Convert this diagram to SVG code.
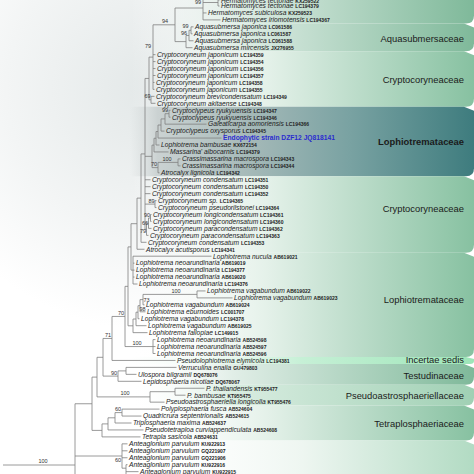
<svg xmlns="http://www.w3.org/2000/svg" width="474" height="474" viewBox="0 0 474 474">
<defs>
<radialGradient id="bg" gradientUnits="userSpaceOnUse" cx="150" cy="90" r="240">
<stop offset="0" stop-color="#e3e8e8"/><stop offset="0.6" stop-color="#f3f5f5"/><stop offset="1" stop-color="#ffffff"/>
</radialGradient>
<linearGradient id="gG" gradientUnits="userSpaceOnUse" x1="130" y1="0" x2="474" y2="0">
<stop offset="0" stop-color="#ffffff" stop-opacity="0"/><stop offset="0.3" stop-color="#e1eee7"/><stop offset="1" stop-color="#7fb99a"/>
</linearGradient>
<linearGradient id="gL" gradientUnits="userSpaceOnUse" x1="130" y1="0" x2="474" y2="0">
<stop offset="0" stop-color="#ffffff" stop-opacity="0"/><stop offset="0.4" stop-color="#e4f1e9"/><stop offset="1" stop-color="#87c1a1"/>
</linearGradient>
<linearGradient id="gD" gradientUnits="userSpaceOnUse" x1="130" y1="0" x2="474" y2="0">
<stop offset="0" stop-color="#d5dada" stop-opacity="0"/><stop offset="0.08" stop-color="#cbd2d2"/><stop offset="0.35" stop-color="#a5b9b8"/><stop offset="0.64" stop-color="#79a2a2"/><stop offset="1" stop-color="#3e7c7e"/>
</linearGradient>
<linearGradient id="gI" gradientUnits="userSpaceOnUse" x1="130" y1="0" x2="474" y2="0">
<stop offset="0" stop-color="#e8f8ee" stop-opacity="0"/><stop offset="0.5" stop-color="#c6f0d6"/><stop offset="1" stop-color="#9de5b8"/>
</linearGradient>
<linearGradient id="gP" gradientUnits="userSpaceOnUse" x1="130" y1="0" x2="474" y2="0">
<stop offset="0" stop-color="#ffffff" stop-opacity="0"/><stop offset="0.3" stop-color="#d9ede1"/><stop offset="1" stop-color="#a0d0b4"/>
</linearGradient>
<linearGradient id="gA" gradientUnits="userSpaceOnUse" x1="130" y1="0" x2="474" y2="0">
<stop offset="0" stop-color="#ffffff" stop-opacity="0"/><stop offset="0.5" stop-color="#eef6f1"/><stop offset="1" stop-color="#b2dbc3"/>
</linearGradient>
<style>
.sp{font-family:"Liberation Sans",Arial,sans-serif;font-style:italic;font-size:6.7px;fill:#222}
.a{font-style:normal;font-weight:bold;font-size:5px}
.bs{font-family:"Liberation Sans",Arial,sans-serif;font-size:5.5px;fill:#333}
.fam{font-family:"Liberation Sans",Arial,sans-serif;font-size:9.4px;fill:#1b1b1b;text-anchor:end}
.tree{fill:none;stroke:#808080;stroke-width:0.8}
.e{text-anchor:end}.m{text-anchor:middle}
</style>
</defs>
<rect x="0" y="0" width="474" height="474" fill="url(#bg)"/>
<g id="bands">
<path fill="url(#gG)" d="M130 -10H464L474 -6V15.4Q474 23.4 466 23.4H130Z"/>
<path fill="url(#gG)" d="M130 23.4H464L474 27.4V43.2Q474 51.2 466 51.2H130Z"/>
<path fill="url(#gL)" d="M130 51.2H464L474 55.2V98.8Q474 106.8 466 106.8H130Z"/>
<path fill="url(#gD)" d="M130 106.8H464L474 110.8V168.3Q474 176.3 466 176.3H130Z"/>
<path fill="url(#gL)" d="M130 176.3H464L474 180.3V244.7Q474 252.7 466 252.7H130Z"/>
<path fill="url(#gL)" d="M130 252.7H464L474 256.7V349Q474 357 466 357H130Z"/>
<path fill="url(#gI)" d="M130 357H466L474 359V361Q474 363.9 470 363.9H130Z"/>
<path fill="url(#gG)" d="M130 363.9H464L474 367.9V376.8Q474 384.8 466 384.8H130Z"/>
<path fill="url(#gP)" d="M130 384.8H464L474 388.8V397.6Q474 405.6 466 405.6H130Z"/>
<path fill="url(#gL)" d="M130 405.6H464L474 409.6V432.4Q474 440.4 466 440.4H130Z"/>
<path fill="url(#gA)" d="M130 440.4H464L474 444.4V480H130Z"/>
</g>
<g id="families">
<text class="fam" x="464" y="41.5">Aquasubmersaceae</text>
<text class="fam" x="464" y="82.5">Cryptocoryneaceae</text>
<text class="fam" x="464" y="145" font-weight="bold" font-size="9.2">Lophiotremataceae</text>
<text class="fam" x="464" y="211.5">Cryptocoryneaceae</text>
<text class="fam" x="464" y="302.5">Lophiotremataceae</text>
<text class="fam" x="464" y="362.8" font-size="7.8">Incertae sedis</text>
<text class="fam" x="464" y="378.5">Testudinaceae</text>
<text class="fam" x="464" y="398.5">Pseudoastrosphaeriellaceae</text>
<text class="fam" x="464" y="426.5">Tetraplosphaeriaceae</text>
</g>
<g id="connectors">
<path class="tree" d="M218 0V6M218 0H219.5M218 6H219.5M203 -6V19.9M203 2.5H218M203 12.95H206.5M203 19.9H220.5
M191 26.85V33.8M191 26.85H193.5M191 33.8H192.5M189 30.3V40.75M189 30.3H191M189 40.75H193.5M186 35.5V47.7M186 35.5H189M186 47.7H192.5
M175 8V41.6M175 8H203M175 41.6H186
M153 24.8V89.4M153 24.8H175M153 54.65H155.5M153 61.6H155.5M153 68.55H155.5M153 75.5H155.5M153 82.45H154.5M153 89.4H154.5
M151 96.35V103.3M151 96.35H154.5M151 103.3H155.5M149 57.1V99.8M149 57.1H153M149 99.8H151
M169 110.25V117.2M169 110.25H170.5M169 117.2H170.5M165 113.7V124.15M165 113.7H169M165 124.15H206.5
M161 118.9V131.1M161 118.9H165M161 131.1H164.5M158 125V138.05M158 125H161M158 138.05H221.5
M156 131.5V145M156 131.5H158M156 145H159.5M154 138.25V151.95M154 138.25H156M154 151.95H168.5
M178 158.9V165.85M178 158.9H180.5M178 165.85H180.5M158 162.4V172.8M158 162.4H178M158 172.8H159.5
M152 145.1V167.6M152 145.1H154M152 167.6H158
M155 200.6V207.55M155 200.6H156.5M155 207.55H156.5M150.5 214.5V221.45M150.5 214.5H151.5M150.5 221.45H151.5
M148.5 218V228.4M148.5 218H150.5M148.5 228.4H151.5M146.5 223.2V235.35M146.5 223.2H148.5M146.5 235.35H148.5
M145 78.45V229.3M145 78.45H149M145 156.35H152M145 179.75H150.5M145 186.7H150.5M145 193.65H150.5M145 204.1H155M145 229.3H146.5
M141 153.9V242.3M141 153.9H145M141 242.3H146.5M137 198.1V249.25M137 198.1H141M137 249.25H144.5
M133 256.2V284M133 256.2H211.5M133 263.15H134.5M133 270.1H134.5M133 277.05H134.5M133 284H137.5
M197 290.95V297.9M197 290.95H205.5M197 297.9H232.5M143 294.4V304.85M143 294.4H197M143 304.85H144.5
M140 299.6V311.8M140 299.6H143M140 311.8H145.5M138 305.7V318.75M138 305.7H140M138 318.75H139.5
M136 312.2V325.7M136 312.2H138M136 325.7H146.5M133 319V332.65M133 319H136M133 332.65H147.5
M131 223.7V270.1M131 223.7H137M131 270.1H133M128 246.9V325.8M128 246.9H131M128 325.8H133
M153 339.6V353.5M153 339.6H155.5M153 346.55H155.5M153 353.5H155.5M125 286.35V346.55M125 286.35H128M125 346.55H153
M112 316.45V360.45M112 316.45H125M112 360.45H175.5
M126 367.4V374.35M126 367.4H176.5M126 374.35H136.5M118 370.9V381.3M118 370.9H126M118 381.3H141.5
M103 338.45V376.1M103 338.45H112M103 376.1H118
M175 388.25V395.2M175 388.25H204.5M175 395.2H185.5M150 391.7V402.15M150 391.7H175M150 402.15H164.5
M122 409.1V416.05M122 409.1H159.5M122 416.05H141.5M115 412.6V423M115 412.6H122M115 423H131.5
M108 417.8V429.95M108 417.8H115M108 429.95H143.5M102 423.9V436.9M102 423.9H108M102 436.9H140.5
M97 357.3V396.9M97 357.3H103M97 396.9H150M92 377.1V430.4M92 377.1H97M92 430.4H102
M75 403.75V474M75 403.75H92M75 456H122M3 465H75
M122 443.85V468.2M122 443.85H127.5M122 450.8H127.5M122 457.75H127.5M122 468.2H126M126 464.7V474M126 464.7H127.5M126 471.65H138.5"/>
</g>
<g id="support">
<text class="bs e" x="201" y="3.5">99</text>
<text class="bs m" x="165" y="22.5">94</text>
<text class="bs e" x="188.5" y="28">99</text>
<text class="bs e" x="187" y="34.5">96</text>
<text class="bs e" x="151" y="47.5">79</text>
<text class="bs e" x="150.5" y="97.5">69</text>
<text class="bs e" x="168" y="111.5">99</text>
<text class="bs m" x="167" y="160.5">100</text>
<text class="bs e" x="157" y="166">70</text>
<text class="bs e" x="154.5" y="202.5">89</text>
<text class="bs e" x="150" y="216.5">90</text>
<text class="bs e" x="148" y="225">66</text>
<text class="bs e" x="146" y="233">79</text>
<text class="bs m" x="176" y="292.5">100</text>
<text class="bs e" x="149.5" y="301.5">73</text>
<text class="bs e" x="145.5" y="310.5">98</text>
<text class="bs e" x="124" y="315">70</text>
<text class="bs m" x="137" y="344.5">100</text>
<text class="bs e" x="111" y="336.5">71</text>
<text class="bs e" x="117" y="374.5">90</text>
<text class="bs m" x="125" y="394.5">100</text>
<text class="bs e" x="121" y="410.5">60</text>
<text class="bs m" x="43" y="463">100</text>
<text class="bs e" x="121" y="461.5">60</text>
</g>
<g id="taxa">
<g id="t0"><text class="sp" x="221" y="2.6">Hermatomyces tectonae <tspan class="a">KX259522</tspan></text></g>
<g id="t1"><text class="sp" x="221" y="8.3">Hermatomyces tectonae <tspan class="a">LC194379</tspan></text></g>
<g id="t2"><text class="sp" x="208" y="15.25">Hermatomyces subiculosa <tspan class="a">KX259523</tspan></text></g>
<g id="t3"><text class="sp" x="222" y="22.2">Hermatomyces iriomotensis <tspan class="a">LC194367</tspan></text></g>
<g id="t4"><text class="sp" x="195" y="29.15">Aquasubmersa japonica <tspan class="a">LC061586</tspan></text></g>
<g id="t5"><text class="sp" x="194" y="36.1">Aquasubmersa japonica <tspan class="a">LC061587</tspan></text></g>
<g id="t6"><text class="sp" x="195" y="43.05">Aquasubmersa japonica <tspan class="a">LC061588</tspan></text></g>
<g id="t7"><text class="sp" x="194" y="50">Aquasubmersa mircensis <tspan class="a">JX276955</tspan></text></g>
<g id="t8"><text class="sp" x="157" y="56.95">Cryptocoryneum japonicum <tspan class="a">LC194359</tspan></text></g>
<g id="t9"><text class="sp" x="157" y="63.9">Cryptocoryneum japonicum <tspan class="a">LC194354</tspan></text></g>
<g id="t10"><text class="sp" x="157" y="70.85">Cryptocoryneum japonicum <tspan class="a">LC194356</tspan></text></g>
<g id="t11"><text class="sp" x="157" y="77.8">Cryptocoryneum japonicum <tspan class="a">LC194357</tspan></text></g>
<g id="t12"><text class="sp" x="156" y="84.75">Cryptocoryneum japonicum <tspan class="a">LC194358</tspan></text></g>
<g id="t13"><text class="sp" x="156" y="91.7">Cryptocoryneum japonicum <tspan class="a">LC194355</tspan></text></g>
<g id="t14"><text class="sp" x="156" y="98.65">Cryptocoryneum brevicondensatum <tspan class="a">LC194349</tspan></text></g>
<g id="t15"><text class="sp" x="157" y="105.6">Cryptocoryneum  akitaense <tspan class="a">LC194348</tspan></text></g>
<g id="t16"><text class="sp" x="172" y="112.55">Cryptoclypeus ryukyuensis <tspan class="a">LC194347</tspan></text></g>
<g id="t17"><text class="sp" x="172" y="119.5">Cryptoclypeus ryukyuensis <tspan class="a">LC194346</tspan></text></g>
<g id="t18"><text class="sp" x="208" y="126.45">Galeaticarpa aomoriensis <tspan class="a">LC194366</tspan></text></g>
<g id="t19"><text class="sp" x="166" y="133.4">Cryptoclypeus oxysporus <tspan class="a">LC194345</tspan></text></g>
<g id="t20"><text x="223" y="140.35" font-family="Liberation Sans, Arial, sans-serif" font-size="6.7" font-weight="bold" fill="#2b2bd0">Endophytic strain DZF12 JQ818141</text></g>
<g id="t21"><text class="sp" x="161" y="147.3">Lophiotrema bambusae <tspan class="a">KX672154</tspan></text></g>
<g id="t22"><text class="sp" x="170" y="154.25">Massarina' albocarnis <tspan class="a">LC194379</tspan></text></g>
<g id="t23"><text class="sp" x="182" y="161.2">Crassimassarina macrospora <tspan class="a">LC194343</tspan></text></g>
<g id="t24"><text class="sp" x="182" y="168.15">Crassimassarina macrospora <tspan class="a">LC194344</tspan></text></g>
<g id="t25"><text class="sp" x="161" y="175.1">Atrocalyx lignicola <tspan class="a">LC194342</tspan></text></g>
<g id="t26"><text class="sp" x="152" y="182.05">Cryptocoryneum condensatum <tspan class="a">LC194351</tspan></text></g>
<g id="t27"><text class="sp" x="152" y="189">Cryptocoryneum condensatum <tspan class="a">LC194350</tspan></text></g>
<g id="t28"><text class="sp" x="152" y="195.95">Cryptocoryneum condensatum <tspan class="a">LC194352</tspan></text></g>
<g id="t29"><text class="sp" x="158" y="202.9">Cryptocoryneum  sp. <tspan class="a">LC194365</tspan></text></g>
<g id="t30"><text class="sp" x="158" y="209.85">Cryptocoryneum pseudorilstonei <tspan class="a">LC194364</tspan></text></g>
<g id="t31"><text class="sp" x="153" y="216.8">Cryptocoryneum longicondensatum <tspan class="a">LC194361</tspan></text></g>
<g id="t32"><text class="sp" x="153" y="223.75">Cryptocoryneum longicondensatum <tspan class="a">LC194360</tspan></text></g>
<g id="t33"><text class="sp" x="153" y="230.7">Cryptocoryneum paracondensatum <tspan class="a">LC194362</tspan></text></g>
<g id="t34"><text class="sp" x="150" y="237.65">Cryptocoryneum paracondensatum <tspan class="a">LC194363</tspan></text></g>
<g id="t35"><text class="sp" x="148" y="244.6">Cryptocoryneum condensatum <tspan class="a">LC194353</tspan></text></g>
<g id="t36"><text class="sp" x="146" y="251.55">Atrocalyx acutisporus <tspan class="a">LC194341</tspan></text></g>
<g id="t37"><text class="sp" x="213" y="258.5">Lophiotrema nucula <tspan class="a">AB619021</tspan></text></g>
<g id="t38"><text class="sp" x="136" y="265.45">Lophiotrema neoarundinaria <tspan class="a">AB619019</tspan></text></g>
<g id="t39"><text class="sp" x="136" y="272.4">Lophiotrema neoarundinaria <tspan class="a">LC194377</tspan></text></g>
<g id="t40"><text class="sp" x="136" y="279.35">Lophiotrema neoarundinaria <tspan class="a">AB619020</tspan></text></g>
<g id="t41"><text class="sp" x="139" y="286.3">Lophiotrema neoarundinaria <tspan class="a">LC194376</tspan></text></g>
<g id="t42"><text class="sp" x="207" y="293.25">Lophiotrema vagabundum <tspan class="a">AB619022</tspan></text></g>
<g id="t43"><text class="sp" x="234" y="300.2">Lophiotrema vagabundum <tspan class="a">AB619023</tspan></text></g>
<g id="t44"><text class="sp" x="146" y="307.15">Lophiotrema vagabundum <tspan class="a">AB619024</tspan></text></g>
<g id="t45"><text class="sp" x="147" y="314.1">Lophiotrema eburnoides <tspan class="a">LC001707</tspan></text></g>
<g id="t46"><text class="sp" x="141" y="321.05">Lophiotrema vagabundum <tspan class="a">LC194378</tspan></text></g>
<g id="t47"><text class="sp" x="148" y="328">Lophiotrema vagabundum <tspan class="a">AB619025</tspan></text></g>
<g id="t48"><text class="sp" x="149" y="334.95">Lophiotrema fallopiae <tspan class="a">LC149915</tspan></text></g>
<g id="t49"><text class="sp" x="157" y="341.9">Lophiotrema neoarundinaria <tspan class="a">AB524598</tspan></text></g>
<g id="t50"><text class="sp" x="157" y="348.85">Lophiotrema neoarundinaria <tspan class="a">AB524597</tspan></text></g>
<g id="t51"><text class="sp" x="157" y="355.8">Lophiotrema neoarundinaria <tspan class="a">AB524596</tspan></text></g>
<g id="t52"><text class="sp" x="177" y="362.75">Pseudolophiotrema elymicola <tspan class="a">LC194381</tspan></text></g>
<g id="t53"><text class="sp" x="178" y="369.7">Verruculina enalia <tspan class="a">GU479803</tspan></text></g>
<g id="t54"><text class="sp" x="138" y="376.65">Ulospora bilgramii <tspan class="a">DQ678076</tspan></text></g>
<g id="t55"><text class="sp" x="143" y="383.6">Lepidosphaeria nicotiae <tspan class="a">DQ678067</tspan></text></g>
<g id="t56"><text class="sp" x="206" y="390.55">P. thailandensis <tspan class="a">KT955477</tspan></text></g>
<g id="t57"><text class="sp" x="187" y="397.5">P. bambusae <tspan class="a">KT955475</tspan></text></g>
<g id="t58"><text class="sp" x="166" y="404.45">Pseudoastrosphaeriella longicolla <tspan class="a">KT955476</tspan></text></g>
<g id="t59"><text class="sp" x="161" y="411.4">Polyplosphaeria fusca <tspan class="a">AB524604</tspan></text></g>
<g id="t60"><text class="sp" x="143" y="418.35">Quadricrura septentrionalis <tspan class="a">AB524615</tspan></text></g>
<g id="t61"><text class="sp" x="133" y="425.3">Triplosphaeria maxima <tspan class="a">AB524637</tspan></text></g>
<g id="t62"><text class="sp" x="145" y="432.25">Pseudotetraploa curviappendiculata <tspan class="a">AB524608</tspan></text></g>
<g id="t63"><text class="sp" x="142" y="439.2">Tetrapla sasicola <tspan class="a">AB524631</tspan></text></g>
<g id="t64"><text class="sp" x="129" y="446.15">Anteaglonium parvulum <tspan class="a">KU922913</tspan></text></g>
<g id="t65"><text class="sp" x="129" y="453.1">Anteaglonium parvulum <tspan class="a">GQ221907</tspan></text></g>
<g id="t66"><text class="sp" x="129" y="460.05">Anteaglonium parvulum <tspan class="a">GQ221906</tspan></text></g>
<g id="t67"><text class="sp" x="129" y="467">Anteaglonium parvulum <tspan class="a">KU922916</tspan></text></g>
<g id="t68"><text class="sp" x="140" y="473.95">Anteaglonium parvulum <tspan class="a">KU922915</tspan></text></g>
</g>
</svg>
